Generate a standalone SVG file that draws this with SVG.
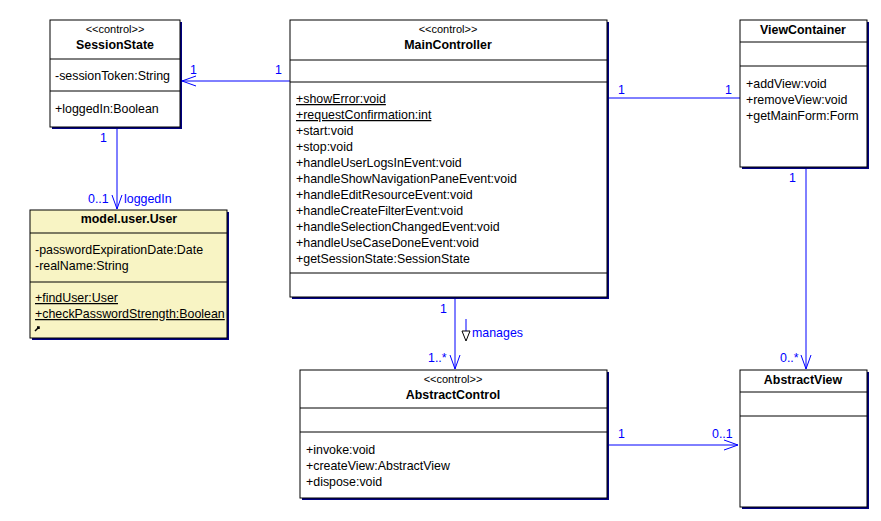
<svg xmlns="http://www.w3.org/2000/svg" width="881" height="521" viewBox="0 0 881 521">
<style>
text{font-family:"Liberation Sans",Arial,sans-serif;font-size:12.4px;fill:#000}
.b{font-weight:bold}
.s{font-size:11px}
.c{text-anchor:middle}
.l{fill:#0000ff}
.box{fill:#fff;stroke:#000;stroke-width:1}
.y{fill:#f8f4c4}
.sh{fill:#000080}
.sep{stroke:#000;stroke-width:1}
.cn{stroke:#0000ff;stroke-width:1;fill:none}
.u{text-decoration:underline}
</style>
<defs>
<marker id="a" markerWidth="16" markerHeight="12" refX="15" refY="6" orient="auto" markerUnits="userSpaceOnUse">
<path d="M1,1 L15,6 L1,11" fill="none" stroke="#0000ff"/>
</marker>
</defs>
<rect x="0" y="0" width="881" height="521" fill="#fff"/>
<g id="connectors">
<line class="cn" x1="290" y1="81" x2="182" y2="81" marker-end="url(#a)"/>
<text class="l" x="190" y="74">1</text><text class="l" x="275" y="74">1</text>
<line class="cn" x1="117" y1="127" x2="117" y2="209" marker-end="url(#a)"/>
<text class="l" x="100" y="142">1</text><text class="l" x="88" y="203">0..1</text><text class="l" x="124" y="203">loggedIn</text>
<line class="cn" x1="607" y1="98" x2="740" y2="98"/>
<text class="l" x="618" y="94">1</text><text class="l" x="725" y="94">1</text>
<line class="cn" x1="806" y1="167" x2="806" y2="369" marker-end="url(#a)"/>
<text class="l" x="789" y="182">1</text><text class="l" x="780" y="362">0..*</text>
<line class="cn" x1="455" y1="297" x2="455" y2="369" marker-end="url(#a)"/>
<text class="l" x="440" y="313">1</text><text class="l" x="428" y="362">1..*</text>
<line x1="466" y1="319" x2="466" y2="331" stroke="#0000ff"/>
<path d="M462,331 L470,331 L466,341 Z" fill="#fff" stroke="#000"/>
<text class="l" x="472" y="337">manages</text>
<line class="cn" x1="607" y1="445" x2="738" y2="445" marker-end="url(#a)"/>
<text class="l" x="618" y="438">1</text><text class="l" x="712" y="438">0..1</text>
</g>
<g id="SessionState">
<rect class="sh" x="52" y="22" width="130" height="107"/>
<rect class="box" x="50" y="20" width="130" height="107"/>
<text class="c s" x="115" y="33">&lt;&lt;control&gt;&gt;</text>
<text class="c b" x="115" y="49">SessionState</text>
<line class="sep" x1="50" y1="59" x2="180" y2="59"/>
<text x="55" y="80">-sessionToken:String</text>
<line class="sep" x1="50" y1="91" x2="180" y2="91"/>
<text x="55" y="113">+loggedIn:Boolean</text>
</g>
<g id="MainController">
<rect class="sh" x="292" y="22" width="317" height="277"/>
<rect class="box" x="290" y="20" width="317" height="277"/>
<text class="c s" x="448" y="33">&lt;&lt;control&gt;&gt;</text>
<text class="c b" x="448" y="49">MainController</text>
<line class="sep" x1="290" y1="60" x2="607" y2="60"/>
<line class="sep" x1="290" y1="82" x2="607" y2="82"/>
<text class="u" x="296" y="103">+showError:void</text>
<text class="u" x="296" y="119">+requestConfirmation:int</text>
<text x="296" y="135">+start:void</text>
<text x="296" y="151">+stop:void</text>
<text x="296" y="167">+handleUserLogsInEvent:void</text>
<text x="296" y="183">+handleShowNavigationPaneEvent:void</text>
<text x="296" y="199">+handleEditResourceEvent:void</text>
<text x="296" y="215">+handleCreateFilterEvent:void</text>
<text x="296" y="231">+handleSelectionChangedEvent:void</text>
<text x="296" y="247">+handleUseCaseDoneEvent:void</text>
<text x="296" y="263">+getSessionState:SessionState</text>
<line class="sep" x1="290" y1="273" x2="607" y2="273"/>
</g>
<g id="ViewContainer">
<rect class="sh" x="742" y="22" width="127" height="147"/>
<rect class="box" x="740" y="20" width="127" height="147"/>
<text class="c b" x="803" y="34">ViewContainer</text>
<line class="sep" x1="740" y1="42" x2="867" y2="42"/>
<line class="sep" x1="740" y1="66" x2="867" y2="66"/>
<text x="746" y="88">+addView:void</text>
<text x="746" y="104">+removeView:void</text>
<text x="746" y="120">+getMainForm:Form</text>
</g>
<g id="User">
<rect class="sh" x="32" y="212" width="197" height="128"/>
<rect class="box y" x="30" y="210" width="197" height="128"/>
<text class="c b" x="129" y="223">model.user.User</text>
<line class="sep" x1="30" y1="233" x2="227" y2="233"/>
<text x="35" y="254">-passwordExpirationDate:Date</text>
<text x="35" y="270">-realName:String</text>
<line class="sep" x1="30" y1="282" x2="227" y2="282"/>
<text class="u" x="35" y="302">+findUser:User</text>
<text class="u" x="35" y="318">+checkPasswordStrength:Boolean</text>
<path d="M35,331 L39,327 M37,327 L39,327 L39,329" stroke="#000" stroke-width="1.5" fill="none"/>
</g>
<g id="AbstractControl">
<rect class="sh" x="302" y="372" width="307" height="128"/>
<rect class="box" x="300" y="370" width="307" height="128"/>
<text class="c s" x="453" y="383">&lt;&lt;control&gt;&gt;</text>
<text class="c b" x="453" y="399">AbstractControl</text>
<line class="sep" x1="300" y1="408" x2="607" y2="408"/>
<line class="sep" x1="300" y1="432" x2="607" y2="432"/>
<text x="306" y="454">+invoke:void</text>
<text x="306" y="470">+createView:AbstractView</text>
<text x="306" y="486">+dispose:void</text>
</g>
<g id="AbstractView">
<rect class="sh" x="742" y="372" width="127" height="137"/>
<rect class="box" x="740" y="370" width="127" height="137"/>
<text class="c b" x="803" y="384">AbstractView</text>
<line class="sep" x1="740" y1="392" x2="867" y2="392"/>
<line class="sep" x1="740" y1="416" x2="867" y2="416"/>
</g>
</svg>
